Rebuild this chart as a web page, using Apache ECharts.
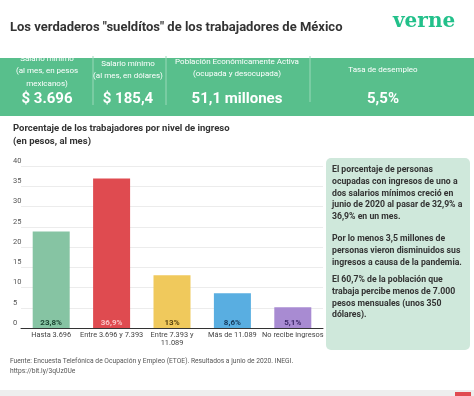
<!DOCTYPE html>
<html>
<head>
<meta charset="utf-8">
<script src="https://cdn.jsdelivr.net/npm/echarts@6/dist/echarts.min.js"></script>
<style>
  html, body { margin: 0; padding: 0; background: #fff; }
  #chart { width: 474px; height: 396px; }
</style>
</head>
<body>
<div id="chart"></div>
<script>
// datos del grafico
const categories = ['Hasta 3.696', 'Entre 3.696 y 7.393', 'Entre 7.393 y 11.089', 'Más de 11.089', 'No recibe ingresos'];
const values = [23.8, 36.9, 13, 8.6, 5.1];
const valueLabels = ['23,8%', '36,9%', '13%', '8,6%', '5,1%'];
const barColors = ['#86c4a3', '#df4b50', '#f0c95c', '#59aee1', '#a88bd2'];
const labelColors = ['#1d4532', '#f7c4c4', '#5a4410', '#163a5c', '#3c2868'];
const yTicks = [0, 5, 10, 15, 20, 25, 30, 35, 40];

const headerCols = [
  { x: 47, label: 'Salario mínimo\n(al mes, en pesos\nmexicanos)', labelY: 59, value: '$ 3.696' },
  { x: 128, label: 'Salario mínimo\n(al mes, en dólares)', labelY: 64, value: '$ 185,4' },
  { x: 237, label: 'Población Económicamente Activa\n(ocupada y desocupada)', labelY: 62, value: '51,1 millones' },
  { x: 383, label: 'Tasa de desempleo', labelY: 70, value: '5,5%' }
];

const boxParas = [
  'El porcentaje de personas\nocupadas con ingresos de uno a\ndos salarios mínimos creció en\njunio de 2020 al pasar de 32,9% a\n36,9% en un mes.',
  'Por lo menos 3,5 millones de\npersonas vieron disminuidos sus\ningresos a causa de la pandemia.',
  'El 60,7% de la población que\ntrabaja percibe menos de 7.000\npesos mensuales (unos 350\ndólares).'
];
const boxParaTop = [164, 233, 274];

const chart = echarts.init(document.getElementById('chart'));

const graphics = [
  // cabecera
  { type: 'text', left: 10, top: 21, style: { text: 'Los verdaderos "sueldítos" de los trabajadores de México', font: 'bold 13px Roboto', fill: '#333' } },
  { type: 'text', left: 393, top: 12, style: { text: 'verne', font: 'bold 20px "DejaVu Serif"', fill: '#22c08a' } },
  { type: 'rect', shape: { x: 0, y: 58, width: 474, height: 58 }, style: { fill: '#58bf8c' } },
  { type: 'line', shape: { x1: 93, y1: 56, x2: 93, y2: 105 }, style: { stroke: '#9ad9b9', lineWidth: 1 } },
  { type: 'line', shape: { x1: 166, y1: 56, x2: 166, y2: 105 }, style: { stroke: '#9ad9b9', lineWidth: 1 } },
  { type: 'line', shape: { x1: 310, y1: 56, x2: 310, y2: 102 }, style: { stroke: '#9ad9b9', lineWidth: 1 } },
  // subtitulo
  { type: 'text', left: 13, top: 122, style: { text: 'Porcentaje de los trabajadores por nivel de ingreso\n(en pesos, al mes)', font: 'bold 9.5px Roboto', fill: '#333', lineHeight: 13 } },
  // caja de texto
  { type: 'rect', shape: { x: 326, y: 158, width: 144, height: 192, r: 5 }, style: { fill: '#cfe8db' } },
  // fuente
  { type: 'text', left: 10, top: 357, style: { text: 'Fuente: Encuesta Telefónica de Ocupación y Empleo (ETOE). Resultados a junio de 2020. INEGI.\nhttps://bit.ly/3qUz0Ue', font: '6.7px Roboto', fill: '#555', lineHeight: 9.5 } },
  { type: 'rect', shape: { x: 0, y: 390, width: 474, height: 6 }, style: { fill: '#eeeeee' } },
  { type: 'rect', shape: { x: 455, y: 392, width: 16, height: 4 }, style: { fill: '#e04a50' } }
];

boxParas.forEach((t, i) => {
  graphics.push({ type: 'text', left: 332, top: boxParaTop[i], style: { text: t, font: 'bold 8.7px Roboto', fill: '#333', lineHeight: 11.8 } });
});

headerCols.forEach(c => {
  graphics.push({ type: 'text', x: c.x, y: c.labelY - 6, style: { text: c.label, font: '8px Roboto', fill: '#fff', align: 'center', verticalAlign: 'top', lineHeight: 12.3 } });
  graphics.push({ type: 'text', x: c.x, y: 99, style: { text: c.value, font: 'bold 15px Roboto', fill: '#fff', align: 'center', verticalAlign: 'middle' } });
});

chart.setOption({
  animation: false,
  grid: { left: 21, right: 151, top: 166, bottom: 68 },
  xAxis: {
    type: 'category',
    data: categories,
    axisLine: { lineStyle: { color: '#333', width: 1 } },
    axisTick: { show: false },
    axisLabel: {
      color: '#444', fontSize: 7.4, fontFamily: 'Roboto', margin: 3,
      interval: 0, lineHeight: 8,
      // partir solo las etiquetas largas en la ultima palabra
      formatter: v => v.length > 19 ? v.replace(/ (\S+)$/, '\n$1') : v
    }
  },
  yAxis: {
    type: 'value',
    min: yTicks[0],
    max: yTicks[yTicks.length - 1],
    interval: yTicks[1] - yTicks[0],
    axisLine: { show: false },
    axisTick: { show: false },
    splitLine: { lineStyle: { color: '#ececec' } },
    axisLabel: {
      color: '#555', fontSize: 7.5, fontFamily: 'Roboto',
      align: 'left', margin: 8, verticalAlign: 'bottom', padding: [0, 0, 1, 0]
    }
  },
  series: [{
    type: 'bar',
    barWidth: 37,
    data: values.map((v, i) => ({
      value: v,
      itemStyle: { color: barColors[i] },
      label: { color: labelColors[i] }
    })),
    label: {
      show: true,
      position: 'insideBottom',
      distance: 1,
      fontSize: 8,
      fontWeight: 'bold',
      fontFamily: 'Roboto',
      formatter: p => valueLabels[p.dataIndex]
    }
  }],
  graphic: graphics
});
</script>
</body>
</html>
